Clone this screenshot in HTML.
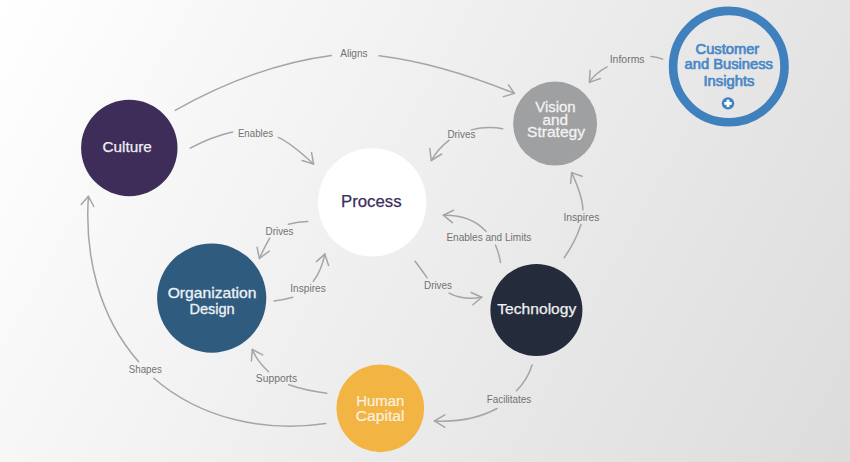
<!DOCTYPE html><html><head><meta charset="utf-8"><style>html,body{margin:0;padding:0;width:850px;height:462px;overflow:hidden;background:#f0f0f0}svg{display:block}text{font-family:"Liberation Sans",sans-serif}</style></head><body>
<svg width="850" height="462" viewBox="0 0 850 462">
<defs><linearGradient id="bg" gradientUnits="userSpaceOnUse" x1="0" y1="0" x2="850" y2="462"><stop offset="0" stop-color="#ffffff"/><stop offset="1" stop-color="#dcdcdc"/></linearGradient></defs>
<rect width="850" height="462" fill="url(#bg)"/>
<g fill="none" stroke="#a5a5a5" stroke-width="1.5" stroke-linecap="round" stroke-linejoin="round">
<path d="M175.2,110.3 Q255,65.5 331.3,55.5"/>
<path d="M379.1,55.7 C425.7,61.5 471.1,75.7 514.4,93.4"/>
<path d="M508.5,84.9 L514.4,93.4 L503.4,96.6"/>
<path d="M190.2,148.2 Q211.9,136.7 232.6,132.1"/>
<path d="M278.3,137.4 Q290.6,142.8 313.6,164.1"/>
<path d="M311.5,152.4 L313.6,164.1 L302.1,160.5"/>
<path d="M502.7,128.7 Q486.45,125.7 471.2,129.9"/>
<path d="M449.2,140.2 Q437.8,149 431.3,160.5"/>
<path d="M429.8,148.6 L431.3,160.5 L441.7,154"/>
<path d="M662.6,59.1 Q656,56.8 650.9,56.5"/>
<path d="M607,66.8 Q594.4,73.8 589.4,82.4"/>
<path d="M590.1,70.3 L589.4,82.4 L600.3,78.5"/>
<path d="M564.1,257.7 Q575.3,242.3 581,224.6"/>
<path d="M582.9,210 Q582.9,197.5 571.7,172.6"/>
<path d="M570.6,183.4 L571.7,172.6 L582,176.3"/>
<path d="M500.5,262.4 Q499,253 495.5,245.2"/>
<path d="M486.1,231.5 Q471.1,214.65 443.3,215.2"/>
<path d="M453.5,210.3 L443.3,215.2 L452.4,222.7"/>
<path d="M415.1,261.2 Q421,269 427,277.6"/>
<path d="M449,293.1 Q463.6,300.6 481.8,297.3"/>
<path d="M471.1,292.5 L481.8,297.3 L472.9,304.8"/>
<path d="M307.8,221.6 Q298,222 288.3,224.2"/>
<path d="M269.7,238.1 Q264,248 259.4,258.5"/>
<path d="M257.1,247.2 L259.4,258.5 L269.2,251.1"/>
<path d="M274.1,301 Q284,299.8 292.9,297.3"/>
<path d="M313.3,281.4 Q321.5,270.5 324.8,254.1"/>
<path d="M316.4,261.6 L324.8,254.1 L328.6,265.4"/>
<path d="M326.8,393.2 Q307.25,391 288.7,384.8"/>
<path d="M268.6,371.8 Q256.9,361.1 252.3,349.4"/>
<path d="M251.4,361 L252.3,349.4 L262.7,354.9"/>
<path d="M532.1,365 Q527.4,379.9 516.4,390.8"/>
<path d="M497,408.5 Q470,422.9 434.5,420.9"/>
<path d="M444.8,414.8 L434.5,420.9 L444.8,427.4"/>
<path d="M88.4,196.3 C84.5,255.6 98.6,316.5 138.6,361.8"/>
<path d="M153.8,378.2 C201.2,419.1 264.5,432.5 325.8,423.4"/>
<path d="M81.2,204.5 L88.4,196.3 L93.8,206.5"/>
</g>
<circle cx="129.3" cy="148" r="48.2" fill="#3e2d58"/>
<circle cx="372.2" cy="202.4" r="54.2" fill="#ffffff"/>
<circle cx="555.1" cy="123.6" r="42" fill="#9fa0a2"/>
<circle cx="211.7" cy="298.1" r="54.6" fill="#2f5b7f"/>
<circle cx="536.4" cy="310" r="46" fill="#242b3a"/>
<circle cx="380.3" cy="408.3" r="43.9" fill="#f2b544"/>
<circle cx="728.8" cy="66.6" r="55.7" fill="none" stroke="#3f80bd" stroke-width="8.6"/>
<circle cx="728" cy="103.4" r="6.2" fill="#3f80bd"/>
<rect x="724.3" y="102" width="7.4" height="2.8" fill="#fff"/><rect x="726.6" y="99.7" width="2.8" height="7.4" fill="#fff"/>
<text x="340.2" y="57.2" font-size="10.5" fill="#727272" textLength="27.4" lengthAdjust="spacingAndGlyphs">Aligns</text>
<text x="237.9" y="137" font-size="10.5" fill="#727272" textLength="35.1" lengthAdjust="spacingAndGlyphs">Enables</text>
<text x="447.4" y="137.6" font-size="10.5" fill="#727272" textLength="28" lengthAdjust="spacingAndGlyphs">Drives</text>
<text x="609.7" y="63.2" font-size="10.5" fill="#727272" textLength="34.9" lengthAdjust="spacingAndGlyphs">Informs</text>
<text x="563.4" y="220.9" font-size="10.5" fill="#727272" textLength="36" lengthAdjust="spacingAndGlyphs">Inspires</text>
<text x="446.4" y="240.9" font-size="10.5" fill="#727272" textLength="84.8" lengthAdjust="spacingAndGlyphs">Enables and Limits</text>
<text x="424" y="288.9" font-size="10.5" fill="#727272" textLength="28" lengthAdjust="spacingAndGlyphs">Drives</text>
<text x="265.6" y="234.9" font-size="10.5" fill="#727272" textLength="27.9" lengthAdjust="spacingAndGlyphs">Drives</text>
<text x="290.3" y="292.1" font-size="10.5" fill="#727272" textLength="35.5" lengthAdjust="spacingAndGlyphs">Inspires</text>
<text x="255.8" y="381.6" font-size="10.5" fill="#727272" textLength="41.3" lengthAdjust="spacingAndGlyphs">Supports</text>
<text x="486.8" y="402.7" font-size="10.5" fill="#727272" textLength="44.4" lengthAdjust="spacingAndGlyphs">Facilitates</text>
<text x="128.8" y="372.9" font-size="10.5" fill="#727272" textLength="33" lengthAdjust="spacingAndGlyphs">Shapes</text>
<text x="102.5" y="151.8" font-size="15" font-weight="normal" fill="#f0eef5" stroke="#f0eef5" stroke-width="0.25" textLength="49.4" lengthAdjust="spacingAndGlyphs">Culture</text>
<text x="341.0" y="206.6" font-size="16.5" font-weight="normal" fill="#3d2d5e" stroke="#3d2d5e" stroke-width="0.25" textLength="60.6" lengthAdjust="spacingAndGlyphs">Process</text>
<text x="535.2" y="111.8" font-size="13.8" font-weight="normal" fill="#f2f2f2" stroke="#f2f2f2" stroke-width="0.3" textLength="40.5" lengthAdjust="spacingAndGlyphs">Vision</text>
<text x="542.4" y="124.8" font-size="13.8" font-weight="normal" fill="#f2f2f2" stroke="#f2f2f2" stroke-width="0.3" textLength="25.6" lengthAdjust="spacingAndGlyphs">and</text>
<text x="527" y="136.7" font-size="13.8" font-weight="normal" fill="#f2f2f2" stroke="#f2f2f2" stroke-width="0.3" textLength="58" lengthAdjust="spacingAndGlyphs">Strategy</text>
<text x="695.6" y="54.2" font-size="14" font-weight="normal" fill="#4a88c6" stroke="#4a88c6" stroke-width="0.7" textLength="63.6" lengthAdjust="spacingAndGlyphs">Customer</text>
<text x="684.5" y="68.9" font-size="14" font-weight="normal" fill="#4a88c6" stroke="#4a88c6" stroke-width="0.7" textLength="88.4" lengthAdjust="spacingAndGlyphs">and Business</text>
<text x="703.4" y="86.3" font-size="14" font-weight="normal" fill="#4a88c6" stroke="#4a88c6" stroke-width="0.7" textLength="51.1" lengthAdjust="spacingAndGlyphs">Insights</text>
<text x="167.7" y="297.9" font-size="14.2" font-weight="normal" fill="#eef2f6" stroke="#eef2f6" stroke-width="0.3" textLength="88.7" lengthAdjust="spacingAndGlyphs">Organization</text>
<text x="189.4" y="313.6" font-size="14.2" font-weight="normal" fill="#eef2f6" stroke="#eef2f6" stroke-width="0.3" textLength="45.3" lengthAdjust="spacingAndGlyphs">Design</text>
<text x="497.3" y="313.6" font-size="14.3" font-weight="normal" fill="#eef0f4" stroke="#eef0f4" stroke-width="0.25" textLength="79" lengthAdjust="spacingAndGlyphs">Technology</text>
<text x="356.3" y="406" font-size="14" font-weight="normal" fill="#fbf3e2" stroke="#fbf3e2" stroke-width="0.15" textLength="48.1" lengthAdjust="spacingAndGlyphs">Human</text>
<text x="355.8" y="420.5" font-size="14" font-weight="normal" fill="#fbf3e2" stroke="#fbf3e2" stroke-width="0.15" textLength="48.6" lengthAdjust="spacingAndGlyphs">Capital</text>
</svg></body></html>
